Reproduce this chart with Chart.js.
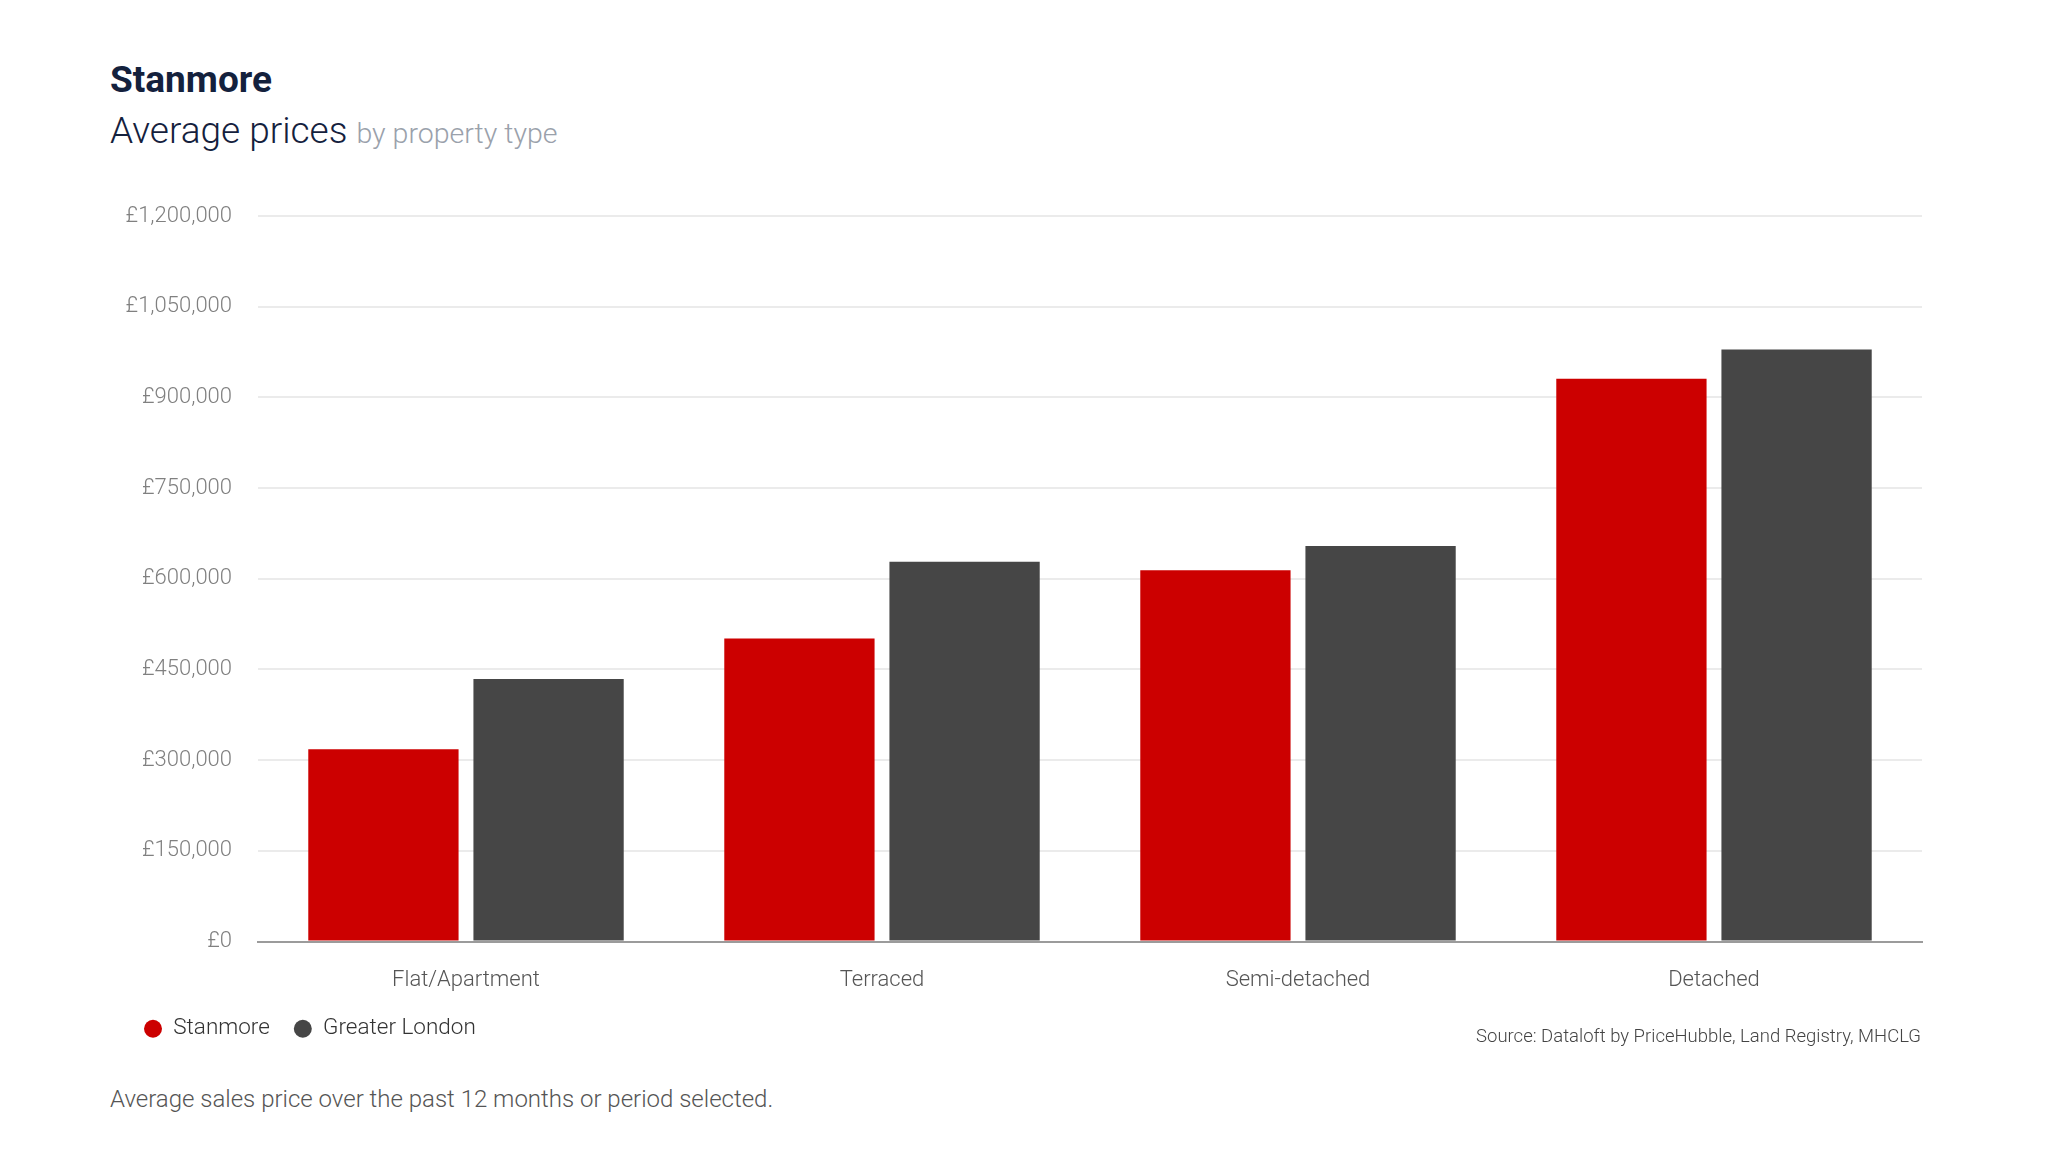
<!DOCTYPE html>
<html>
<head>
<meta charset="utf-8">
<script src="https://cdn.jsdelivr.net/npm/chart.js@4/dist/chart.umd.min.js"></script>
<style>
  body { margin: 0; width: 2048px; height: 1174px; background: #fff; font-family: Roboto, sans-serif; position: relative; overflow: hidden; }
  .title { position: absolute; left: 110px; top: 59px; font-size: 37px; font-weight: 700; color: #14213d; line-height: 42px; }
  .subtitle { position: absolute; left: 110px; top: 109px; font-size: 37px; font-weight: 300; color: #14213d; line-height: 44px; }
  .subtitle span { font-size: 28.5px; color: #9aa1ab; }
  .source { position: absolute; right: 127px; top: 1024px; font-size: 18.5px; font-weight: 300; color: #444; line-height: 24px; }
  .note { position: absolute; left: 110px; top: 1085px; font-size: 24px; font-weight: 300; color: #555; line-height: 28px; }
  .chart-box { position: absolute; left: 0; top: 0; width: 2048px; height: 1060px; }
</style>
</head>
<body>
<div class="title">Stanmore</div>
<div class="subtitle">Average prices <span>by property type</span></div>
<div class="chart-box"><canvas id="myChart"></canvas></div>
<div class="source">Source: Dataloft by PriceHubble, Land Registry, MHCLG</div>
<div class="note">Average sales price over the past 12 months or period selected.</div>

<script>
// property types along the x axis
var propertyTypes = ['Flat/Apartment', 'Terraced', 'Semi-detached', 'Detached'];

// average prices
var stanmorePrices = [318000, 501000, 614000, 931000];
var londonPrices = [434000, 628000, 654000, 979000];

// y axis runs 0 to 1.2m in steps of 150k
var yMax = 1200000;
var yStep = 150000;

var ctx = document.getElementById('myChart').getContext('2d');
var chart = new Chart(ctx, {
    type: 'bar',

    data: {
        labels: propertyTypes,
        datasets: [
        {
            label: 'Stanmore',
            backgroundColor: '#cc0000',
            data: stanmorePrices,
            categoryPercentage: 0.794,
            barPercentage: 0.91
        },
        {
            label: 'Greater London',
            backgroundColor: '#464646',
            data: londonPrices,
            categoryPercentage: 0.794,
            barPercentage: 0.91
        }
      ]
    },

    options: {
        responsive: true,
        maintainAspectRatio: false,
        animation: false,
        layout: {
            padding: { top: 216, left: 120, right: 126, bottom: 10 }
        },
        plugins: {
            legend: {
                position: 'bottom',
                align: 'start',
                labels: {
                    usePointStyle: true,
                    pointStyle: 'circle',
                    pointStyleWidth: 18,
                    boxHeight: 12.7,
                    padding: 24,
                    color: '#333',
                    font: { family: 'Roboto', size: 22.5, weight: '300' }
                }
            },
            tooltip: { enabled: false }
        },
        scales: {
            x: {
                grid: { display: false, drawTicks: false },
                border: { display: true, color: '#9b9b9b', width: 2 },
                ticks: {
                    padding: 26,
                    color: '#555',
                    font: { family: 'Roboto', size: 22, weight: '300' }
                },
                // fixed height so the legend sits right under the labels
                afterFit: function (scale) { scale.height = 52; }
            },
            y: {
                min: 0,
                max: yMax,
                grid: { color: '#ebebeb', lineWidth: 2, drawTicks: false },
                border: { display: false },
                ticks: {
                    stepSize: yStep,
                    padding: 26,
                    color: '#808080',
                    font: { family: 'Roboto', size: 22, weight: '300' },
                    callback: function (value) {
                        return '£' + value.toLocaleString('en-GB');
                    }
                },
                afterFit: function (scale) { scale.width = 138; }
            }
        }
    }
});
</script>
</body>
</html>
